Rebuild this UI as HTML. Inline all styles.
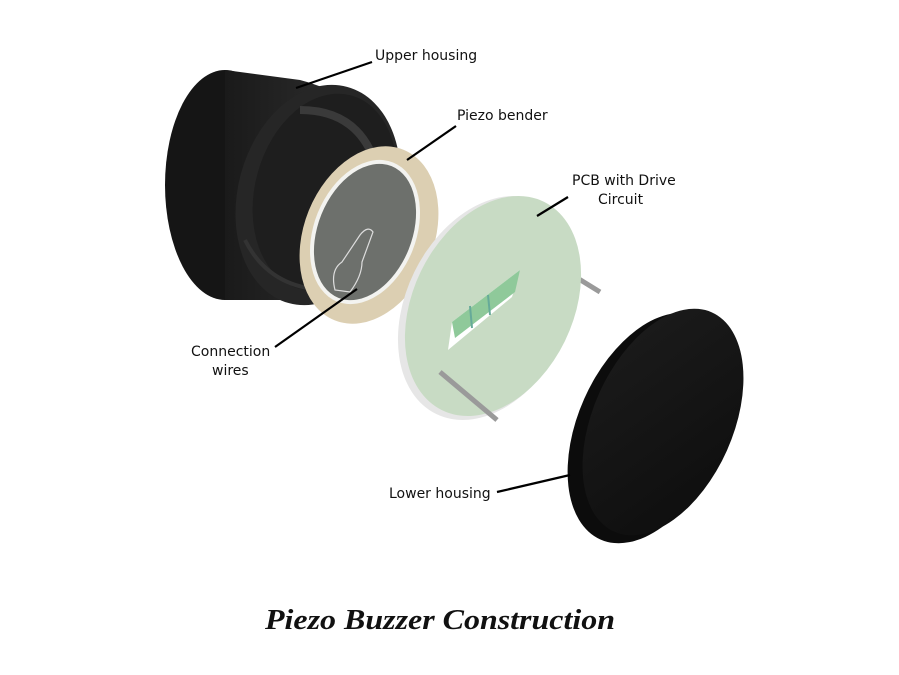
<!DOCTYPE html>
<html><head><style>
body{margin:0;background:#fff;}
svg{display:block}
text{font-family:"DejaVu Sans","Liberation Sans",sans-serif;font-size:14px;fill:#111}
</style></head><body>
<svg width="899" height="675" viewBox="0 0 899 675">
<defs>
<linearGradient id="hg" x1="0" y1="0" x2="1" y2="0">
<stop offset="0" stop-color="#1a1a1a"/><stop offset="0.6" stop-color="#2a2a2a"/><stop offset="1" stop-color="#111"/>
</linearGradient>
<linearGradient id="lg" x1="0" y1="0" x2="1" y2="1">
<stop offset="0" stop-color="#1c1c1c"/><stop offset="1" stop-color="#0d0d0d"/>
</linearGradient>
</defs>
<!-- Upper housing -->
<ellipse cx="225" cy="185" rx="60" ry="115" fill="#151515"/>
<path d="M225 70 L300 80 Q395 105 400 200 Q395 300 300 300 L225 300 Z" fill="url(#hg)"/>
<ellipse cx="318" cy="195" rx="80" ry="112" transform="rotate(15 318 195)" fill="#262626"/>
<ellipse cx="325" cy="192" rx="70" ry="100" transform="rotate(15 325 192)" fill="#1e1e1e"/>
<path d="M300 110 Q350 110 370 150" stroke="#3a3a3a" stroke-width="8" fill="none"/>
<path d="M245 240 Q270 290 330 290" stroke="#333" stroke-width="4" fill="none"/>
<!-- Piezo bender -->
<ellipse cx="369" cy="235" rx="65" ry="92" transform="rotate(22 369 235)" fill="#dccfb2"/>
<ellipse cx="365" cy="232" rx="51" ry="75" transform="rotate(22 365 232)" fill="#f3f3f0"/>
<ellipse cx="365" cy="232" rx="47" ry="71" transform="rotate(22 365 232)" fill="#6d706c"/>
<path d="M335 290 Q330 270 342 262 L360 235 Q368 225 373 232 L362 262 Q362 276 350 292 Z" fill="none" stroke="#ddd" stroke-width="1.2"/>
<!-- PCB pins back -->
<line x1="540" y1="255" x2="600" y2="292" stroke="#9a9a9a" stroke-width="5"/>
<!-- PCB -->
<ellipse cx="488" cy="308" rx="82" ry="118" transform="rotate(26 488 308)" fill="#e6e6e6"/>
<ellipse cx="493" cy="306" rx="80" ry="116" transform="rotate(26 493 306)" fill="#c8dbc4"/>
<polygon points="448,350 512,297 520,270 452,322" fill="#fff"/>
<polygon points="452,322 520,270 515,292 455,338" fill="#8fc99a"/>
<line x1="488" y1="295" x2="490" y2="315" stroke="#6a9" stroke-width="2"/>
<line x1="470" y1="306" x2="472" y2="328" stroke="#6a9" stroke-width="2"/>
<line x1="440" y1="372" x2="497" y2="420" stroke="#9a9a9a" stroke-width="5"/>
<!-- Lower housing -->
<ellipse cx="650" cy="428" rx="72" ry="122" transform="rotate(24 650 428)" fill="#0c0c0c"/>
<ellipse cx="663" cy="422" rx="70" ry="120" transform="rotate(24 663 422)" fill="url(#lg)"/>
<!-- Leaders -->
<g stroke="#000" stroke-width="2.2">
<line x1="372" y1="62" x2="296" y2="88"/>
<line x1="456" y1="126" x2="407" y2="160"/>
<line x1="568" y1="197" x2="537" y2="216"/>
<line x1="275" y1="347" x2="357" y2="289"/>
<line x1="497" y1="492" x2="570" y2="475"/>
</g>
<text x="375" y="60">Upper housing</text>
<text x="457" y="120">Piezo bender</text>
<text x="572" y="185">PCB with Drive</text>
<text x="598" y="204">Circuit</text>
<text x="191" y="356">Connection</text>
<text x="212" y="375">wires</text>
<text x="389" y="498" fill="#111">Lower housing</text>
<text x="265" y="629" textLength="350" lengthAdjust="spacingAndGlyphs" style="font-family:'Liberation Serif',serif;font-size:29px;font-weight:bold;font-style:italic;fill:#111">Piezo Buzzer Construction</text>
</svg>
</body></html>
